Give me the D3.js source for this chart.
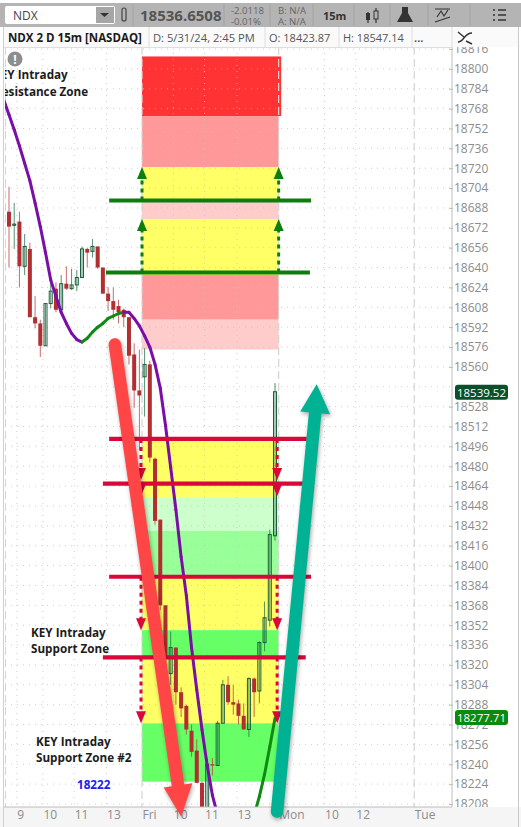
<!DOCTYPE html>
<html lang="en">
<head>
<meta charset="UTF-8">
<title>NDX 2 D 15m</title>
<script src="https://d3js.org/d3.v7.min.js"></script>
<style>
  body { margin: 0; background: #fff; overflow: hidden; }
  svg { display: block; font-family: "Open Sans", sans-serif; }
  .axis path { display: none; }
  .axis line { stroke: #bdbdbd; }
  .axis text { fill: #8c8c8c; font-size: 12px; font-family: "Open Sans", sans-serif; }
  .note { font-weight: 700; font-size: 11.7px; fill: #1c1c1c; }
</style>
</head>
<body>
<svg id="chart" width="521" height="827"></svg>
<script>
// candles, one entry per 15m bar
const opens = [18685,18674,18677,18641,18655,18600,18595,18577,18611,18623,18606,18627,18623,18626,18632,18655,18653,18657,18640,18619,18613,18609,18606,18600,18570,18541,
  18552,18562,18486,18437,18368,18313,18334,18298,18287,18267,18251,18225,18190,18240,18239,18273,18304,18290,18289,18279,18268,18309,18299,18338,18356,18424];
const highs = [18705,18692,18685,18667,18660,18617,18598,18611,18628,18628,18634,18641,18639,18638,18657,18656,18663,18657,18640,18624,18624,18614,18607,18600,18579,18574,
  18575,18565,18487,18437,18368,18347,18334,18302,18288,18272,18260,18226,18245,18245,18275,18308,18311,18304,18292,18289,18310,18310,18339,18371,18429,18547];
const lows = [18640,18655,18624,18634,18600,18591,18568,18577,18607,18604,18605,18622,18622,18621,18632,18640,18648,18639,18619,18605,18598,18595,18592,18562,18527,18493,
  18520,18483,18433,18364,18322,18304,18288,18278,18264,18246,18225,18180,18185,18231,18239,18273,18288,18280,18272,18268,18262,18278,18289,18331,18351,18420];
const closes = [18673,18675,18641,18657,18600,18595,18577,18611,18621,18606,18627,18623,18626,18632,18655,18652,18657,18640,18619,18613,18606,18604,18600,18569,18541,18537,
  18562,18487,18436,18368,18326,18334,18298,18285,18268,18250,18225,18190,18240,18239,18273,18304,18290,18288,18279,18268,18309,18298,18338,18358,18425,18540];

// moving average, starts one bar before the first candle
const maBars = [-1,0,1,2,3,4,5,6,7,8,9,10,11,12,13,14,15,16,17,18,19,20,21,22,23,24,25,26,27,28,29,30,31,32,33,34,35,36,37,38,39,40];
const maValues = [18775,18763,18751,18738,18724,18710,18692,18673,18652,18630,18617,18604,18595,18587,18582,18580,18583,18588,18592,18595,18599,18601,18603,18604,18604,18599,18593,18585,18576,18562,18543,18513,18479,18445,18407,18376,18334,18300,18268,18239,18215,18199];
const maTailBars = [47,48,49,50,51];
const maTailValues = [18199,18214,18232,18254,18277];

// shaded zones
const zoneTops = [18810,18762,18721,18694,18679,18634,18598,18502,18455,18428,18391,18348,18325,18273];
const zoneBottoms = [18762,18721,18694,18679,18634,18598,18574,18455,18428,18391,18348,18325,18273,18226];
const zoneKinds = ["red","pink","yellow","palePink","yellow","pink","palePink","yellow","paleGreen","midGreen","yellow","green","yellow","green"];

// level lines
const greenLevels = [18694,18636];
const greenFrom = [19.2,18.6];
const greenTo = [57.9,57.7];
const redLevels = [18502,18466,18391,18326];
const redFrom = [19.2,18,19.2,18];
const redTo = [57.1,56.4,57.9,56.9];

// dotted arrows inside the zones
const upFrom = [18636,18694];
const upTo = [18679,18721];
const downFrom = [18502,18466,18391,18326];
const downTo = [18469,18456,18348,18273];

// last price and moving average tags
const lastPrice = 18539.52;
const maPrice = 18277.71;

const priceTicks = [18816,18800,18784,18768,18752,18736,18720,18704,18688,18672,18656,18640,18624,18608,18592,18576,18560,18528,18512,18496,18480,18464,18448,18432,18416,18400,18384,18368,18352,18336,18320,18304,18288,18272,18256,18240,18224,18208];
const gridPrices = [18816,18800,18784,18768,18752,18736,18720,18704,18688,18672,18656,18640,18624,18608,18592,18576,18560,18544,18528,18512,18496,18480,18464,18448,18432,18416,18400,18384,18368,18352,18336,18320,18304,18288,18272,18256,18240,18224,18208];
const timeBars = [1.5,6.5,12.5,18.7,25.5,31.5,37.5,43.7,51.7,60.5,66.5,77.7];
const timeLabels = ["9","10","11","13","Fri","10","11","13","Mon","10","12","Tue"];
const dayBreaks = [-0.7,25.5,51.7,77.7];

const zoneColor = { red:"#ff3333", pink:"#ff9999", palePink:"#ffcccc", yellow:"#ffff66", green:"#66ff66", midGreen:"#99ff99", paleGreen:"#ccffcc" };
const zoneStart = 25.5, zoneEnd = 51.7;

const svg = d3.select("#chart");
const x = d3.scaleLinear().domain([0, 51]).range([9, 275]);
const y = d3.scaleLinear().domain([18816, 18208]).range([49, 804]);
const pane = { left: 5, right: 452, top: 47, bottom: 807 };

svg.append("clipPath").attr("id", "pane").append("rect")
  .attr("x", pane.left).attr("y", pane.top)
  .attr("width", pane.right - pane.left).attr("height", pane.bottom - pane.top);

const plot = svg.append("g").attr("clip-path", "url(#pane)");

// zones first, the grid shows through on top of them
plot.selectAll("rect.zone").data(zoneTops).join("rect")
  .attr("class", "zone")
  .attr("x", x(zoneStart))
  .attr("width", (d, i) => x(zoneEnd) - x(zoneStart) + (i === 0 ? 2.5 : 0))
  .attr("y", d => y(d))
  .attr("height", (d, i) => y(zoneBottoms[i]) - y(d))
  .attr("fill", (d, i) => zoneColor[zoneKinds[i]]);

plot.selectAll("line.hgrid").data(gridPrices).join("line")
  .attr("x1", pane.left).attr("x2", pane.right)
  .attr("y1", d => y(d)).attr("y2", d => y(d))
  .attr("stroke", "rgba(195,195,195,.8)").attr("stroke-dasharray", "1 5");
plot.selectAll("line.vgrid").data(timeBars.filter(b => !dayBreaks.includes(b))).join("line")
  .attr("x1", d => x(d)).attr("x2", d => x(d))
  .attr("y1", pane.top).attr("y2", pane.bottom)
  .attr("stroke", "rgba(195,195,195,.8)").attr("stroke-dasharray", "1 5");
plot.selectAll("line.day").data(dayBreaks).join("line")
  .attr("x1", d => x(d)).attr("x2", d => x(d))
  .attr("y1", pane.top).attr("y2", pane.bottom)
  .attr("stroke", "#d4d4d4").attr("stroke-width", 1.2).attr("stroke-dasharray", "8 4");

// candles
const isUp = i => closes[i] >= opens[i];
plot.selectAll("line.wick").data(opens).join("line")
  .attr("x1", (d, i) => x(i)).attr("x2", (d, i) => x(i))
  .attr("y1", (d, i) => y(highs[i])).attr("y2", (d, i) => y(lows[i]))
  .attr("stroke", (d, i) => isUp(i) ? "#1f6b45" : "#b8383c")
  .attr("stroke-opacity", .75);
plot.selectAll("rect.body").data(opens).join("rect")
  .attr("x", (d, i) => x(i) - (isUp(i) ? 1.5 : 2))
  .attr("width", (d, i) => isUp(i) ? 3 : 4)
  .attr("y", (d, i) => y(Math.max(d, closes[i])))
  .attr("height", (d, i) => Math.max(1, Math.abs(y(d) - y(closes[i]))))
  .attr("fill", (d, i) => isUp(i) ? "none" : "#b12f31")
  .attr("stroke", (d, i) => isUp(i) ? "#1b5e3d" : "none");

// moving average, green while rising and purple while falling
const maLine = d3.line().x(d => x(d[0])).y(d => y(d[1]));
function drawMa(bars, values) {
  for (let i = 1; i < bars.length; i++) {
    plot.append("path")
      .attr("d", maLine([[bars[i - 1], values[i - 1]], [bars[i], values[i]]]))
      .attr("fill", "none")
      .attr("stroke", values[i] > values[i - 1] ? "#0f8a12" : "#7a0ea6")
      .attr("stroke-width", 3)
      .attr("stroke-linecap", "round");
  }
}
drawMa(maBars, maValues);
drawMa(maTailBars, maTailValues);

// level lines
plot.selectAll("line.glevel").data(greenLevels).join("line")
  .attr("x1", (d, i) => x(greenFrom[i])).attr("x2", (d, i) => x(greenTo[i]))
  .attr("y1", d => y(d)).attr("y2", d => y(d))
  .attr("stroke", "#0d7d0d").attr("stroke-width", 4.2);
plot.selectAll("line.rlevel").data(redLevels).join("line")
  .attr("x1", (d, i) => x(redFrom[i])).attr("x2", (d, i) => x(redTo[i]))
  .attr("y1", d => y(d)).attr("y2", d => y(d))
  .attr("stroke", "#d8083a").attr("stroke-width", 4.2);

// dotted arrows at both edges of the zones
function dottedArrow(bar, from, to, color, offset) {
  const px = x(bar) + offset, y0 = y(from), y1 = y(to);
  const dir = y1 > y0 ? 1 : -1;
  plot.append("line")
    .attr("x1", px).attr("x2", px).attr("y1", y0).attr("y2", y1 - dir * 10)
    .attr("stroke", color).attr("stroke-width", 3).attr("stroke-dasharray", "4 4");
  plot.append("path")
    .attr("d", d3.line()([[px - 5, y1 - dir * 12], [px + 5, y1 - dir * 12], [px, y1]]))
    .attr("fill", color);
}
[zoneStart, zoneEnd].forEach(bar => {
  upFrom.forEach((d, i) => dottedArrow(bar, d, upTo[i], "#0d7d0d", 0));
  downFrom.forEach((d, i) => dottedArrow(bar, d, downTo[i], "#d8083a", bar === zoneEnd ? -1.5 : -1));
});

// right axis, then the bars that clip its first and last label
svg.append("rect").attr("x", pane.right).attr("y", pane.top).attr("width", 69).attr("height", 780).attr("fill", "#fff");
const yAxis = d3.axisRight(y).tickValues(priceTicks).tickSize(4).tickPadding(1).tickFormat(d3.format("d"));
svg.append("g").attr("class", "axis").attr("transform", `translate(${pane.right - 3},0)`).call(yAxis);
svg.append("line").attr("x1", pane.right).attr("x2", pane.right).attr("y1", 27).attr("y2", 807).attr("stroke", "#bdbdbd");

svg.append("rect").attr("x", 0).attr("y", pane.bottom).attr("width", 521).attr("height", 20).attr("fill", "#f5f5f5");
svg.append("line").attr("x1", 3).attr("x2", 452).attr("y1", pane.bottom).attr("y2", pane.bottom).attr("stroke", "#bdbdbd");
const xAxis = d3.axisBottom(x).tickValues(timeBars).tickSize(0).tickPadding(3).tickFormat((d, i) => timeLabels[i]);
const xGroup = svg.append("g").attr("class", "axis").attr("transform", `translate(0,${pane.bottom})`).call(xAxis);
xGroup.selectAll("text").attr("text-anchor", "start");

svg.append("line").attr("x1", 3.5).attr("x2", 3.5).attr("y1", 27).attr("y2", 827).attr("stroke", "#cfcfcf");
svg.append("line").attr("x1", 518.5).attr("x2", 518.5).attr("y1", 0).attr("y2", 827).attr("stroke", "#c8c8c8");

// price tags
function priceTag(price, fill) {
  const g = svg.append("g").attr("transform", `translate(455,${y(price)})`);
  g.append("rect").attr("x", 0).attr("y", -7.5).attr("width", 53).attr("height", 15).attr("rx", 3).attr("fill", fill);
  g.append("text").attr("x", 26.5).attr("y", 4.3).attr("text-anchor", "middle")
    .attr("font-size", 11.5).attr("fill", "#fff").text(price.toFixed(2));
}
priceTag(lastPrice, "#0b4f2b");
priceTag(maPrice, "#0a8a0e");

// big hand drawn arrows, they run over the axis
function bigArrow(bar0, price0, bar1, price1, bar2, price2, headWidth, color) {
  const a = [x(bar0), y(price0)], b = [x(bar1), y(price1)], tip = [x(bar2), y(price2)];
  const len = Math.hypot(tip[0] - a[0], tip[1] - a[1]);
  const nx = -(tip[1] - a[1]) / len * headWidth / 2, ny = (tip[0] - a[0]) / len * headWidth / 2;
  const g = svg.append("g").style("filter", "drop-shadow(1px 2px 2px rgba(0,0,0,.35))");
  g.append("line").attr("x1", a[0]).attr("y1", a[1]).attr("x2", b[0]).attr("y2", b[1])
    .attr("stroke", color).attr("stroke-width", 12.5).attr("stroke-linecap", "round");
  g.append("path").attr("fill", color)
    .attr("d", d3.line()([[b[0] + nx, b[1] + ny], [b[0] - nx, b[1] - ny], tip]) + "Z");
}
bigArrow(20.3, 18578, 32.4, 18223, 33, 18198, 29, "#ff4545");
bigArrow(51.4, 18202, 58.7, 18523, 59, 18546, 30, "#00b294");

// notes on the chart
const notes = plot.append("g");
notes.append("text").attr("class", "note").attr("x", -7).attr("y", 79).text("KEY Intraday");
notes.append("text").attr("class", "note").attr("x", -6).attr("y", 96).text("Resistance Zone");
svg.append("text").attr("class", "note").attr("x", 31).attr("y", 637).text("KEY Intraday");
svg.append("text").attr("class", "note").attr("x", 31).attr("y", 653).text("Support Zone");
svg.append("text").attr("class", "note").attr("x", 36).attr("y", 746).text("KEY Intraday");
svg.append("text").attr("class", "note").attr("x", 36).attr("y", 762).text("Support Zone #2");
svg.append("text").attr("x", 77).attr("y", 789).attr("font-size", 11.7).attr("font-weight", 700).attr("fill", "#2020ee").text("18222");

svg.append("circle").attr("cx", 15).attr("cy", 59).attr("r", 7.5).attr("fill", "#8e8e8e");
svg.append("text").attr("x", 15).attr("y", 63.5).attr("text-anchor", "middle").attr("font-size", 12).attr("font-weight", 700).attr("fill", "#fff").text("!");

// toolbar
svg.append("rect").attr("width", 521).attr("height", 27).attr("fill", "#b4b4b4");
svg.append("rect").attr("width", 521).attr("height", 3).attr("fill", "#fff");
svg.append("rect").attr("x", 5).attr("y", 6).attr("width", 110).attr("height", 18).attr("rx", 2).attr("fill", "#fff");
svg.append("rect").attr("x", 96).attr("y", 7).attr("width", 18).attr("height", 16).attr("fill", "#a6a6a6");
svg.append("path").attr("d", "M100 13h9l-4.5 4z").attr("fill", "#333");
svg.append("text").attr("x", 13).attr("y", 20).attr("font-size", 12).attr("fill", "#444").text("NDX");
svg.append("rect").attr("x", 122).attr("y", 8).attr("width", 4).attr("height", 13).attr("rx", 2).attr("fill", "none").attr("stroke", "#444").attr("stroke-width", 1.2);
svg.append("text").attr("x", 140).attr("y", 21).attr("font-size", 15).attr("font-weight", 700).attr("fill", "#555").text("18536.6508");
svg.append("text").attr("x", 231).attr("y", 14).attr("font-size", 9.6).attr("fill", "#666").text("-2.0118");
svg.append("text").attr("x", 231).attr("y", 24.5).attr("font-size", 9.6).attr("fill", "#666").text("-0.01%");
svg.append("text").attr("x", 278).attr("y", 14).attr("font-size", 9.6).attr("fill", "#666").text("B: N/A");
svg.append("text").attr("x", 278).attr("y", 24.5).attr("font-size", 9.6).attr("fill", "#666").text("A: N/A");
svg.append("text").attr("x", 323).attr("y", 20).attr("font-size", 11).attr("font-weight", 700).attr("fill", "#333").text("15m");
[133, 224, 270, 313, 354, 390, 428, 470].forEach(px => {
  svg.append("line").attr("x1", px).attr("x2", px).attr("y1", 4).attr("y2", 26).attr("stroke", "#a2a2a2");
});
// toolbar icons
svg.append("path").attr("d", "M368 12v11M376 8v15").attr("stroke", "#333").attr("stroke-width", 1.2);
svg.append("rect").attr("x", 366).attr("y", 13).attr("width", 4).attr("height", 7).attr("fill", "#333");
svg.append("rect").attr("x", 374).attr("y", 11).attr("width", 4).attr("height", 8).attr("fill", "#b4b4b4").attr("stroke", "#333");
svg.append("path").attr("d", "M402 7h6v6l5 9h-16l5-9z").attr("fill", "#333");
svg.append("path").attr("d", "M435 9h15M435 22l15-5M437 17l4-6 3 5 4-6").attr("fill", "none").attr("stroke", "#333").attr("stroke-width", 1.2);
svg.append("path").attr("d", "M493 10h2M493 15h2M493 20h2M498 10h8M498 15h8M498 20h8").attr("stroke", "#333").attr("stroke-width", 1.4);

// quote row, also covers the top of the first axis label
svg.append("rect").attr("x", 4).attr("y", 27).attr("width", 514).attr("height", 20).attr("fill", "#fafafa");
svg.append("line").attr("x1", 4).attr("x2", 452).attr("y1", 47.5).attr("y2", 47.5).attr("stroke", "#dedede");
[149, 265, 339, 412, 452].forEach(px => {
  svg.append("line").attr("x1", px).attr("x2", px).attr("y1", 27).attr("y2", 47).attr("stroke", "#dedede");
});
svg.append("text").attr("x", 8).attr("y", 42).attr("font-size", 11.5).attr("font-weight", 700).attr("fill", "#1a1a1a").text("NDX 2 D 15m [NASDAQ]");
svg.append("text").attr("x", 153).attr("y", 42).attr("font-size", 11.2).attr("fill", "#555").text("D: 5/31/24, 2:45 PM");
svg.append("text").attr("x", 269).attr("y", 42).attr("font-size", 11).attr("fill", "#555").text("O: 18423.87");
svg.append("text").attr("x", 343).attr("y", 42).attr("font-size", 11).attr("fill", "#555").text("H: 18547.14");
svg.append("text").attr("x", 414).attr("y", 42).attr("font-size", 11).attr("font-weight", 700).attr("fill", "#555").text("...");
svg.append("path").attr("d", "M458 32l6 5M466 41l6 3M458 42c6 0 6-9 14-9").attr("fill", "none").attr("stroke", "#333").attr("stroke-width", 1.4);
</script>
</body>
</html>
